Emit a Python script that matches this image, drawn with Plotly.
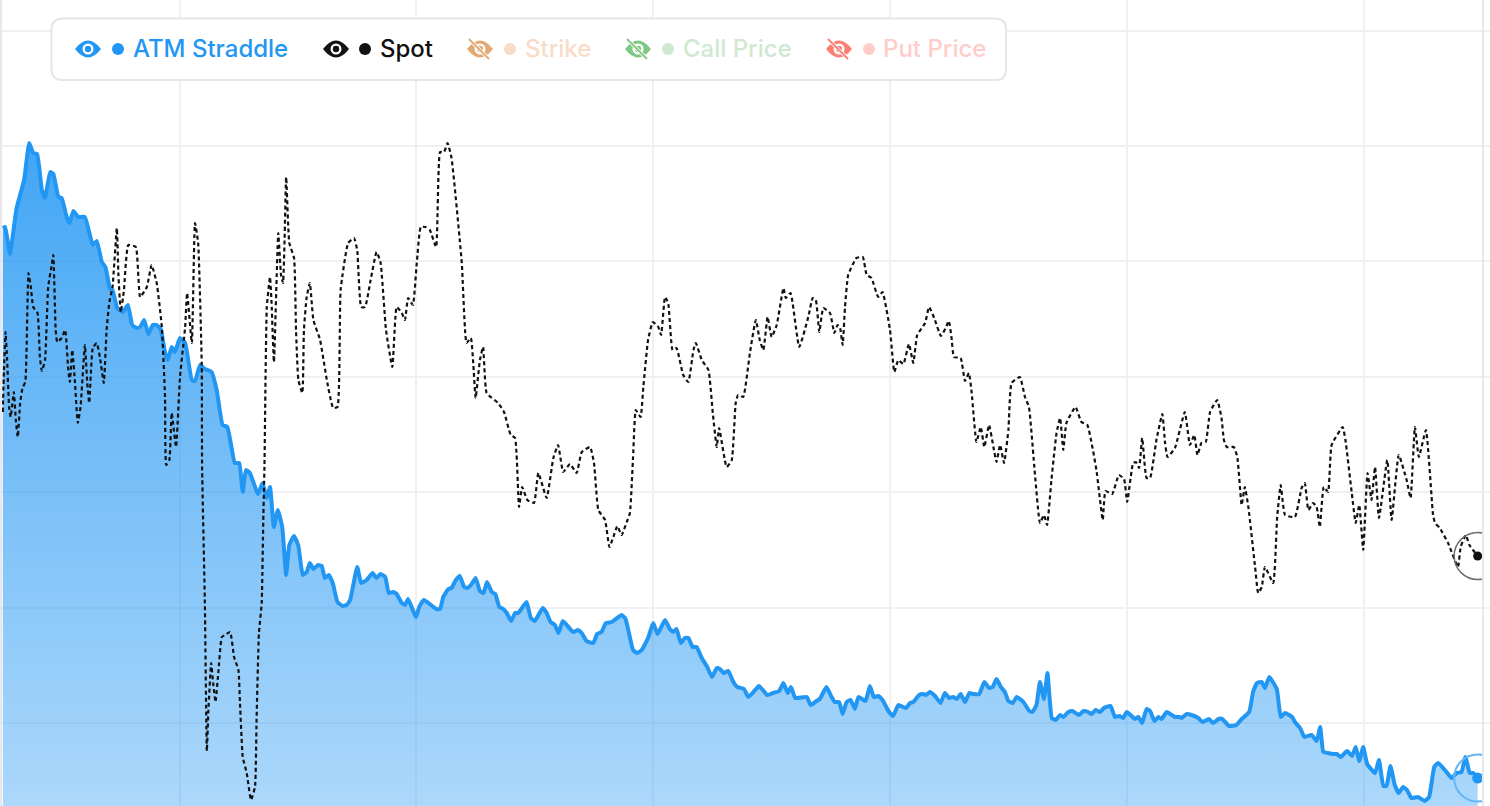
import plotly.graph_objects as go

# Straddle and spot over the 375 minute session (x = minutes since open)
straddle_min = [
    0.2, 0.8, 2.0, 3.7, 5.6, 6.9, 7.9, 8.9, 10.1, 10.9,
    12.2, 13.0, 14.3, 15.1, 16.4, 17.1, 18.1, 19.3, 21.0, 23.0,
    24.0, 25.3, 26.2, 27.4, 28.0, 29.2, 30.6, 31.9, 33.0, 34.1,
    35.0, 36.0, 37.1, 38.2, 39.2, 40.2, 41.3, 42.0, 43.0, 43.8,
    45.1, 46.4, 48.1, 48.9, 50.2, 51.4, 53.1, 54.4, 55.9, 57.1,
    59.0, 60.1, 60.6, 61.0, 61.8, 62.8, 64.9, 66.0, 67.1, 67.9,
    68.9, 69.9, 71.0, 72.0, 72.8, 74.0, 75.1, 76.2, 77.2, 78.0,
    78.9, 80.1, 81.0, 81.8, 82.8, 83.8, 85.0, 86.3, 87.3, 88.2,
    90.0, 91.0, 92.4, 93.9, 94.9, 95.9, 97.1, 98.0, 99.1, 100.0,
    101.3, 102.1, 102.9, 104.9, 105.7, 106.9, 109.3, 110.1, 111.0, 111.8,
    113.1, 113.9, 115.0, 116.0, 117.1, 117.9, 119.0, 120.0, 121.1, 122.0,
    122.9, 124.1, 125.0, 126.0, 127.0, 127.9, 129.0, 130.0, 130.8, 132.9,
    134.0, 135.0, 137.0, 138.0, 139.0, 140.1, 141.0, 142.1, 144.7, 145.9,
    146.9, 148.1, 149.8, 150.8, 151.9, 153.0, 154.5, 157.0, 158.0, 159.9,
    161.0, 162.1, 163.7, 165.0, 166.1, 168.0, 169.2, 170.1, 170.9, 172.0,
    173.0, 173.9, 175.0, 176.0, 177.3, 178.7, 179.9, 181.1, 181.9, 182.9,
    184.0, 185.3, 186.3, 188.0, 189.1, 190.4, 191.8, 193.9, 195.4, 196.9,
    198.0, 199.1, 199.9, 201.0, 203.9, 204.9, 206.4, 207.2, 208.9, 210.2,
    211.0, 212.1, 213.0, 214.0, 215.0, 216.1, 217.0, 218.8, 219.9, 220.9,
    222.0, 223.1, 224.6, 225.8, 227.1, 229.0, 230.1, 230.9, 232.4, 233.4,
    234.1, 235.1, 236.4, 237.8, 238.9, 240.0, 241.0, 241.9, 242.9, 244.0,
    245.1, 246.1, 247.6, 248.9, 250.1, 251.0, 252.0, 253.1, 254.1, 255.0,
    256.1, 257.1, 258.8, 260.3, 261.1, 262.1, 263.0, 264.0, 264.9, 266.0,
    267.0, 268.1, 268.9, 270.2, 271.2, 272.9, 274.0, 275.2, 276.1, 277.1,
    278.2, 279.2, 280.9, 282.0, 283.1, 284.1, 285.0, 287.1, 287.9, 288.9,
    290.0, 290.9, 292.0, 293.0, 293.8, 295.1, 297.2, 298.3, 298.9, 300.2,
    301.4, 303.1, 304.2, 305.8, 306.9, 308.2, 309.2, 310.9, 312.8, 314.1,
    316.0, 317.0, 318.0, 319.2, 320.0, 321.1, 323.0, 324.0, 325.1, 326.9,
    327.6, 328.9, 330.0, 331.8, 333.1, 334.0, 334.8, 336.0, 337.3, 338.2,
    339.2, 340.8, 342.1, 343.0, 343.9, 344.9, 345.9, 347.9, 348.9, 350.0,
    350.8, 351.8, 352.9, 353.9, 355.0, 356.0, 357.1, 358.8, 360.5, 361.6,
    362.9, 363.9, 366.0, 367.3, 368.6, 369.8, 370.8, 371.9, 372.8, 373.9,
]
straddle = [
    61.2, 61.3, 58.6, 63.2, 66.0, 69.7, 68.7, 68.6, 65.0, 64.2,
    66.8, 66.6, 64.3, 64.2, 62.3, 61.7, 62.9, 62.3, 62.3, 59.5,
    59.9, 57.8, 57.3, 55.1, 55.0, 53.2, 52.8, 53.5, 51.5, 51.2,
    51.3, 52.0, 50.6, 51.5, 51.5, 51.1, 48.8, 48.0, 49.3, 48.8,
    50.2, 49.7, 46.0, 45.9, 47.5, 47.1, 46.8, 45.0, 41.5, 41.3,
    37.7, 37.7, 36.2, 34.8, 37.0, 36.7, 34.6, 35.7, 34.2, 35.3,
    31.3, 33.0, 31.3, 26.5, 29.5, 30.4, 29.4, 26.5, 26.8, 27.7,
    27.1, 27.5, 27.4, 26.2, 26.5, 25.7, 23.8, 23.4, 23.5, 24.0,
    27.3, 25.7, 26.0, 26.7, 26.2, 26.6, 26.3, 24.7, 24.8, 24.6,
    23.7, 23.5, 24.1, 22.3, 23.3, 24.0, 23.3, 23.1, 23.1, 24.3,
    25.1, 25.2, 26.0, 26.4, 25.3, 25.2, 25.6, 26.2, 24.9, 24.7,
    25.8, 24.8, 24.6, 23.3, 23.1, 22.7, 21.9, 22.7, 22.7, 23.8,
    22.2, 21.9, 23.2, 22.7, 21.8, 21.5, 20.7, 21.9, 20.8, 21.0,
    20.7, 19.9, 19.7, 20.6, 20.8, 21.7, 21.8, 22.5, 22.1, 19.0,
    18.7, 19.0, 20.2, 21.7, 20.6, 22.0, 21.1, 20.8, 21.1, 19.7,
    20.2, 20.2, 19.3, 19.3, 18.2, 17.3, 16.3, 17.2, 17.1, 16.7,
    16.9, 15.8, 15.3, 15.1, 14.3, 14.8, 15.4, 14.5, 14.7, 14.9,
    15.7, 14.7, 15.3, 14.2, 14.3, 13.5, 13.9, 14.1, 15.3, 14.3,
    13.8, 13.8, 12.6, 13.8, 14.0, 13.1, 14.3, 13.9, 15.4, 14.3,
    14.4, 14.0, 12.9, 12.4, 13.5, 13.2, 13.7, 13.8, 14.5, 14.6,
    14.5, 14.8, 14.4, 13.7, 14.7, 14.2, 14.3, 14.1, 14.6, 13.8,
    14.7, 14.6, 14.6, 15.8, 15.2, 15.3, 16.1, 15.3, 14.8, 13.9,
    13.7, 14.3, 13.8, 12.9, 12.8, 13.5, 15.8, 14.1, 16.7, 12.2,
    12.0, 12.5, 12.3, 12.8, 12.9, 12.5, 12.9, 12.8, 12.6, 13.0,
    12.8, 13.2, 13.4, 12.3, 12.4, 12.2, 12.8, 12.1, 12.3, 11.7,
    13.1, 12.9, 11.9, 12.3, 12.1, 12.8, 12.3, 12.3, 12.2, 12.6,
    12.5, 12.2, 11.8, 12.1, 11.7, 12.1, 12.1, 11.4, 11.5, 12.1,
    12.8, 14.8, 15.7, 15.8, 15.2, 16.3, 15.1, 12.3, 12.7, 12.3,
    11.8, 11.2, 10.3, 10.5, 9.9, 11.3, 8.8, 8.7, 8.6, 8.6,
    8.3, 8.9, 8.4, 9.3, 7.9, 9.3, 7.6, 6.7, 8.0, 5.4,
    5.4, 7.4, 5.5, 4.7, 5.3, 5.0, 4.2, 4.3, 3.9, 4.3,
    7.3, 7.7, 6.8, 6.2, 6.7, 6.8, 8.3, 6.7, 6.7, 6.2,
]

spot_min = [
    0.2, 0.5, 0.9, 1.3, 1.8, 2.2, 3.0, 3.5, 4.0, 4.6,
    5.2, 5.9, 6.7, 7.3, 7.9, 9.0, 9.6, 10.1, 10.9, 11.7,
    12.6, 13.0, 13.6, 14.0, 15.1, 16.0, 16.8, 17.2, 17.8, 18.5,
    19.2, 19.9, 21.0, 21.6, 22.1, 23.0, 24.0, 24.8, 25.8, 26.5,
    27.2, 28.0, 29.1, 29.5, 30.1, 30.9, 32.0, 33.9, 35.0, 36.7,
    37.9, 39.2, 40.5, 41.3, 41.6, 42.4, 43.0, 44.1, 45.1, 46.4,
    46.9, 48.1, 48.9, 49.7, 50.6, 50.7, 51.4, 51.9, 52.3, 53.0,
    53.5, 54.1, 54.8, 55.7, 56.5, 57.8, 58.8, 59.9, 60.3, 61.0,
    62.0, 63.1, 64.1, 64.5, 65.1, 65.8, 66.2, 66.5, 66.8, 67.1,
    67.9, 68.3, 68.9, 70.0, 70.7, 71.2, 71.6, 72.0, 72.8, 74.0,
    74.5, 75.1, 76.1, 76.5, 77.2, 78.0, 78.9, 80.6, 82.3, 83.9,
    85.0, 85.8, 87.7, 89.2, 90.0, 91.0, 92.0, 93.4, 94.9, 95.9,
    97.3, 98.9, 100.0, 101.3, 102.1, 102.9, 104.1, 105.1, 106.1, 107.3,
    108.4, 110.0, 111.0, 112.0, 112.9, 113.9, 116.5, 117.7, 118.8, 119.4,
    120.0, 121.1, 121.9, 122.8, 125.7, 127.2, 128.9, 130.0, 131.0, 131.8,
    133.1, 134.8, 135.9, 138.0, 139.7, 140.9, 142.2, 143.9, 145.6, 146.9,
    149.0, 150.0, 151.1, 152.8, 153.9, 154.9, 155.9, 157.0, 158.3, 159.1,
    159.9, 160.6, 161.8, 162.5, 163.7, 164.9, 166.3, 167.0, 168.0, 168.8,
    169.9, 170.9, 172.6, 173.9, 175.2, 175.8, 177.3, 179.0, 180.1, 181.1,
    181.7, 183.6, 184.9, 185.9, 186.5, 187.8, 189.5, 191.0, 192.0, 192.9,
    194.0, 195.0, 196.3, 198.0, 198.6, 199.8, 202.0, 204.3, 205.4, 206.2,
    207.1, 208.1, 209.8, 210.9, 211.7, 212.3, 213.0, 213.6, 214.4, 216.5,
    218.1, 219.1, 220.3, 222.0, 223.1, 225.0, 226.1, 227.1, 228.4, 229.8,
    230.9, 231.9, 233.9, 234.9, 236.2, 237.9, 239.1, 239.9, 240.6, 241.2,
    242.9, 244.0, 245.0, 245.7, 246.9, 248.0, 248.9, 250.1, 251.2, 252.0,
    252.9, 253.9, 255.0, 255.8, 257.9, 259.2, 260.2, 261.7, 263.0, 264.0,
    264.8, 265.9, 267.2, 268.1, 268.9, 269.7, 272.0, 273.5, 275.0, 277.3,
    278.9, 279.6, 281.3, 283.0, 284.3, 285.1, 286.6, 287.3, 288.1, 288.9,
    290.0, 290.9, 292.5, 294.0, 294.7, 295.3, 297.2, 299.7, 301.0, 302.1,
    302.9, 303.9, 305.0, 306.1, 307.9, 309.0, 309.6, 310.3, 312.1, 313.0,
    314.1, 314.9, 315.8, 317.5, 318.3, 319.2, 320.0, 322.1, 323.1, 324.0,
    325.1, 327.6, 329.3, 330.1, 331.0, 332.2, 333.1, 333.9, 334.9, 336.0,
    336.9, 339.7, 340.4, 342.0, 343.0, 343.9, 344.9, 346.0, 347.0, 347.9,
    348.9, 351.0, 352.1, 353.9, 355.9, 356.9, 358.0, 359.0, 360.8, 362.6,
    363.1, 364.3, 366.4, 368.9, 369.6, 370.9, 371.8, 373.9,
]
spot = [
    24294, 24315, 24334, 24320, 24296.5, 24291.5, 24304, 24290, 24281.5, 24298.5,
    24306, 24309, 24363.5, 24356.5, 24346.5, 24343.5, 24321.5, 24314.5, 24320, 24356.5,
    24367.5, 24372.5, 24335, 24329, 24331, 24335, 24315, 24309, 24325, 24308.5,
    24288.5, 24296.5, 24327.5, 24308.5, 24298.5, 24326, 24328.5, 24321.5, 24308.5, 24335,
    24349, 24356.5, 24386, 24362.5, 24344, 24355, 24377.5, 24376.5, 24351.5, 24356.5,
    24367.5, 24358.5, 24336.5, 24301.5, 24267.5, 24270, 24293.5, 24276.5, 24311.5, 24336.5,
    24353.5, 24328.5, 24388.5, 24378.5, 24318.5, 24266.5, 24198.5, 24124.5, 24145, 24168.5,
    24158.5, 24149, 24163.5, 24181.5, 24182.5, 24184, 24171.5, 24165, 24148.5, 24121.5,
    24113.5, 24100, 24106.5, 24140, 24183.5, 24198.5, 24240, 24266.5, 24315, 24346.5,
    24361.5, 24348.5, 24319, 24383.5, 24362.5, 24358.5, 24380, 24411.5, 24378.5, 24371,
    24335, 24310, 24303.5, 24335, 24351.5, 24358.5, 24340, 24330, 24310, 24296,
    24296.5, 24355, 24378.5, 24381, 24375, 24346.5, 24346.5, 24360, 24374, 24369,
    24335, 24316.5, 24346.5, 24343.5, 24340, 24351, 24347.5, 24368.5, 24386.5, 24386.5,
    24385, 24376.5, 24424, 24424, 24428.5, 24421, 24368.5, 24328.5, 24331, 24318.5,
    24301, 24320, 24326.5, 24303.5, 24298.5, 24294, 24282.5, 24281, 24246.5, 24256.5,
    24250, 24248.5, 24263.5, 24251, 24271, 24277.5, 24264, 24268, 24263.5, 24274,
    24276.5, 24268.5, 24245, 24240, 24226.5, 24231.5, 24237, 24232.5, 24239, 24243.5,
    24271.5, 24295, 24291.5, 24306.5, 24330, 24339, 24336.5, 24332.5, 24351.5, 24348.5,
    24325, 24326, 24312.5, 24309, 24325, 24328.5, 24320, 24315, 24293.5, 24276.5,
    24286, 24266.5, 24270, 24298.5, 24302.5, 24301.5, 24323.5, 24340, 24330, 24325,
    24341.5, 24331.5, 24337.5, 24356, 24351, 24353.5, 24326.5, 24341.5, 24351, 24350,
    24334, 24346, 24343.5, 24333.5, 24337.5, 24336.5, 24327.5, 24346.5, 24362.5, 24371,
    24371.5, 24362.5, 24361, 24351.5, 24354, 24335, 24314, 24320, 24318, 24328,
    24318.5, 24332.5, 24338.5, 24346.5, 24341, 24332, 24336, 24339.5, 24331, 24321.5,
    24321, 24309.5, 24313.5, 24303.5, 24279, 24286.5, 24276.5, 24287.5, 24276.5, 24269,
    24277.5, 24268.5, 24285, 24308.5, 24311.5, 24301.5, 24296.5, 24263.5, 24238.5, 24242.5,
    24237.5, 24260, 24283.5, 24291, 24275, 24288.5, 24296.5, 24289, 24287.5, 24265,
    24240, 24254.5, 24253, 24262.5, 24260.5, 24249, 24268.5, 24269, 24266, 24281,
    24261, 24261, 24280, 24293, 24278.5, 24271.5, 24276, 24294, 24277.5, 24282.5,
    24272.5, 24278.5, 24279, 24294, 24300, 24291, 24280, 24276.5, 24276.5, 24271.5,
    24247.5, 24256.5, 24246.5, 24216.5, 24203.5, 24206.5, 24216.5, 24208.5, 24241.5, 24257.5,
    24242.5, 24241.5, 24256, 24258.5, 24245, 24248.5, 24246.5, 24236.5, 24256.5, 24254,
    24277.5, 24286.5, 24280, 24253.5, 24238.5, 24247.5, 24225, 24263.5, 24250, 24266.5,
    24241, 24270, 24240, 24272.5, 24260, 24251, 24286.5, 24271.5, 24285, 24242.5,
    24238.5, 24236, 24228.5, 24216.5, 24226.5, 24232.5, 24227.5, 24222,
]
assert len(straddle_min) == len(straddle) and len(spot_min) == len(spot)

legend_labels = ["ATM Straddle", "Spot", "Strike", "Call Price", "Put Price"]

BLUE = "#2196F3"
GRID = "#F0F0F2"
AXIS = "#E7E7ED"
W, H = 1490, 806
ML, MR = 2, 8

fig = go.Figure()

fig.add_trace(go.Scatter(
    x=straddle_min, y=straddle, mode="lines", name="ATM Straddle",
    line=dict(color=BLUE, width=4, shape="spline", smoothing=0.4), fill="tozeroy",
    fillgradient=dict(type="vertical", colorscale=[
        [0, "rgba(33,150,243,0.35)"], [1, "rgba(33,150,243,0.85)"]]),
))
fig.add_trace(go.Scatter(
    x=spot_min, y=spot, mode="lines", name="Spot", yaxis="y2",
    line=dict(color="#111111", width=2.2, dash="4px,3px", shape="spline", smoothing=0.4),
))

# hover dots and their halos on the last point
fig.add_trace(go.Scatter(
    x=straddle_min[-1:], y=straddle[-1:], mode="markers",
    marker=dict(symbol="circle-open", size=47, color="#64B5F6", line=dict(width=2, color="#64B5F6")),
))
fig.add_trace(go.Scatter(
    x=straddle_min[-1:], y=straddle[-1:], mode="markers",
    marker=dict(size=11, color=BLUE),
))
fig.add_trace(go.Scatter(
    x=spot_min[-1:], y=spot[-1:], yaxis="y2", mode="markers",
    marker=dict(symbol="circle-open", size=47, color="#6E6E6E", line=dict(width=1.5, color="#6E6E6E")),
))
fig.add_trace(go.Scatter(
    x=spot_min[-1:], y=spot[-1:], yaxis="y2", mode="markers",
    marker=dict(size=9, color="#111111"),
))


def px(x):
    return (x - ML) / (W - ML - MR)


def py(y):
    return 1 - y / H


def path_shape(d, **kw):
    return dict(type="path", xref="paper", yref="paper", path=d, **kw)


def rounded_box(x0, y0, x1, y1, r):
    return (f"M{px(x0 + r)},{py(y0)} L{px(x1 - r)},{py(y0)} Q{px(x1)},{py(y0)} {px(x1)},{py(y0 + r)} "
            f"L{px(x1)},{py(y1 - r)} Q{px(x1)},{py(y1)} {px(x1 - r)},{py(y1)} L{px(x0 + r)},{py(y1)} "
            f"Q{px(x0)},{py(y1)} {px(x0)},{py(y1 - r)} L{px(x0)},{py(y0 + r)} Q{px(x0)},{py(y0)} {px(x0 + r)},{py(y0)} Z")


def circle(cx, cy, r, color, **kw):
    return dict(type="circle", xref="paper", yref="paper", x0=px(cx - r), x1=px(cx + r),
                y0=py(cy + r), y1=py(cy - r), fillcolor=color, line_width=0, **kw)


def eye(cx, cy, color, hidden=False):
    d = (f"M{px(cx - 13)},{py(cy)} Q{px(cx)},{py(cy - 17)} {px(cx + 13)},{py(cy)} "
         f"Q{px(cx)},{py(cy + 17)} {px(cx - 13)},{py(cy)} Z")
    out = [path_shape(d, fillcolor=color, line_width=0),
           circle(cx, cy, 5.5, "white"), circle(cx, cy, 3.2, color)]
    if hidden:
        out.append(path_shape(f"M{px(cx - 10)},{py(cy - 9)} L{px(cx + 10)},{py(cy + 11)}",
                              line=dict(color="white", width=3.5)))
        out.append(path_shape(f"M{px(cx - 11)},{py(cy - 10)} L{px(cx + 9)},{py(cy + 10)}",
                              line=dict(color=color, width=1.8)))
    return out


shapes = [
    path_shape(rounded_box(51, 19, 1007, 81, 11), fillcolor="#F1F1F1", line_width=0),
    path_shape(rounded_box(51.5, 18.5, 1006, 80, 11), fillcolor="white", line=dict(color="#E6E6E6", width=2)),
]
annotations = []
# eye centre, dot centre, text left, icon colour, dot/text colour, hidden
legend_style = [
    (88, 118, 133, BLUE, BLUE, False),
    (336, 365, 380, "#111111", "#111111", False),
    (480, 510, 525, "#E3A975", "#F8DCC8", True),
    (638, 668, 683, "#81C784", "#CFE8D0", True),
    (839, 869, 883, "#FB7F73", "#FFCDC9", True),
]
for label, (ex, dx, tx, icon, col, hidden) in zip(legend_labels, legend_style):
    shapes += eye(ex, 49, icon, hidden)
    shapes.append(circle(dx, 49, 6, col))
    annotations.append(dict(
        text=label, x=px(tx), y=py(49), xref="paper", yref="paper", xanchor="left", yanchor="middle",
        showarrow=False, xshift=-2.5, font=dict(family="Inter", size=24, color=col, weight=500),
    ))

fig.update_layout(
    width=W, height=H, margin=dict(l=ML, r=MR, t=0, b=0),
    paper_bgcolor="white", plot_bgcolor="white", showlegend=False,
    shapes=shapes, annotations=annotations,
    xaxis=dict(range=[0, 375], tick0=45, dtick=60, showticklabels=False, ticks="",
               showgrid=True, gridcolor=GRID, gridwidth=2, zeroline=False, showline=False),
    yaxis=dict(range=[3.4, 84], tick0=11.7, dtick=11.54, showticklabels=False, ticks="",
               showgrid=True, gridcolor=GRID, gridwidth=2, zeroline=False,
               showline=True, linecolor=AXIS, linewidth=3),
    yaxis2=dict(range=[24097, 24500], overlaying="y", side="right", tick0=24138.5, dtick=57.7,
                showticklabels=False, ticks="outside", ticklen=8, tickwidth=2, tickcolor=GRID,
                showgrid=False, zeroline=False, showline=True, linecolor=AXIS, linewidth=2),
)

fig.write_html("out.html", config={"displayModeBar": False},
               post_script="document.body.style.margin='0';")
